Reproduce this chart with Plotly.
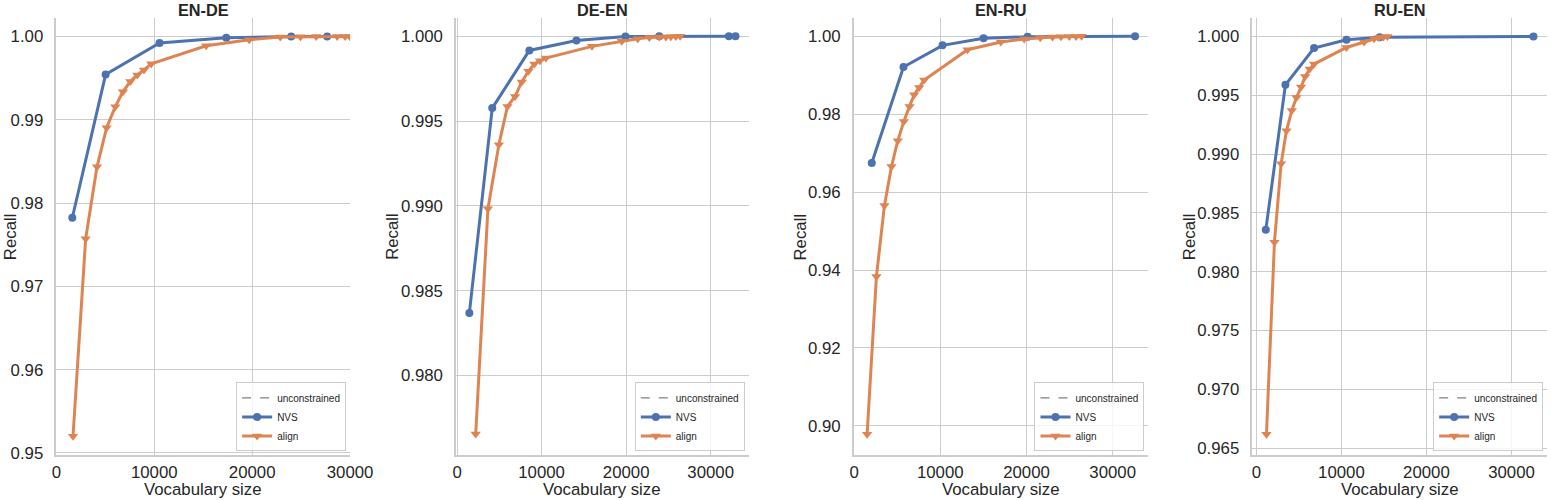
import plotly.graph_objects as go
from plotly.subplots import make_subplots

# recall vs vocabulary size
pairs = ["EN-DE", "DE-EN", "EN-RU", "RU-EN"]

ende_nvs_x = [1630, 5030, 10540, 17350, 23980, 27650]
ende_nvs_y = [0.97823, 0.99542, 0.99920, 0.99984, 0.99998, 1.0]
ende_align_x = [1700, 2990, 4150, 5135, 6020, 6800, 7550, 8260, 8945, 9690,
                15300, 19700, 22860, 24930, 26530, 28670, 29490, 29950]
ende_align_y = [0.95201, 0.97570, 0.98434, 0.98904, 0.99157, 0.99337, 0.99458, 0.99538, 0.99598, 0.99671,
                0.99888, 0.99960, 0.99992, 0.99996, 0.99998, 0.99999, 1.0, 1.0]

deen_nvs_x = [1450, 4160, 8550, 14120, 19920, 23920, 32160, 32940]
deen_nvs_y = [0.98368, 0.99577, 0.99917, 0.99976, 0.99999, 1.0, 1.0, 1.0]
deen_align_x = [2200, 3650, 4940, 5960, 6860, 7650, 8430, 9140, 9800, 10510,
                15960, 19490, 21370, 22750, 23920, 24710, 25290, 25880, 26390]
deen_align_y = [0.97654, 0.98983, 0.99361, 0.99587, 0.99646, 0.99731, 0.99794, 0.99837, 0.99856, 0.99872,
                0.99941, 0.99971, 0.99986, 0.99994, 0.99996, 0.99997, 0.99998, 0.99999, 1.0]

enru_nvs_x = [2050, 5730, 10260, 15020, 20130, 32600]
enru_nvs_y = [0.96746, 0.99212, 0.99769, 0.99949, 0.99991, 1.0]
enru_align_x = [1510, 2590, 3520, 4340, 5070, 5770, 6430, 6970, 7550, 8130,
                13160, 17030, 19740, 21600, 23030, 24000, 24970, 25750, 26400]
enru_align_y = [0.89786, 0.93835, 0.95659, 0.96661, 0.97320, 0.97817, 0.98202, 0.98502, 0.98690, 0.98878,
                0.99658, 0.99854, 0.99932, 0.99966, 0.99983, 0.99990, 0.99995, 0.99998, 1.0]

ruen_nvs_x = [1100, 3410, 6780, 10590, 14500, 32590]
ruen_nvs_y = [0.98356, 0.99589, 0.99901, 0.99972, 0.99992, 1.0]
ruen_align_x = [1180, 2120, 2900, 3530, 4160, 4710, 5250, 5730, 6270, 6780,
                10590, 12670, 13840, 14430, 14940, 15410]
ruen_align_y = [0.96619, 0.98251, 0.98917, 0.99198, 0.99371, 0.99481, 0.99569, 0.99660, 0.99722, 0.99765,
                0.99906, 0.99952, 0.99980, 0.99990, 0.99996, 1.0]

unconstrained = 1.0

nvs = [(ende_nvs_x, ende_nvs_y), (deen_nvs_x, deen_nvs_y), (enru_nvs_x, enru_nvs_y), (ruen_nvs_x, ruen_nvs_y)]
align = [(ende_align_x, ende_align_y), (deen_align_x, deen_align_y),
         (enru_align_x, enru_align_y), (ruen_align_x, ruen_align_y)]

# the photo comes out a little smaller than the page (~0.983, shifted a few px),
# so the page is made a bit bigger and positions are mapped back
S, OX, OY = 0.983, 3.6, 2.0
W, H = 1574, 507


def xp(px):
    return (px - OX) / S / W


def yp(py):
    return 1 - (py - OY) / S / H


blue = "#4c72b0"
orange = "#dd8452"
grid = "#cccccc"
txt = "#262626"
font = "Arial, Liberation Sans, sans-serif"

# panel geometry in picture pixels
x_px = [(55, 349), (455, 748), (853, 1148), (1252, 1547)]
y_top, y_bot = 20, 456
x_ranges = [[0, 30000], [-125, 34515], [-45, 34160], [-475, 34200]]
y_ranges = [[0.9497, 1.0022], [0.97528, 1.00108], [0.89238, 1.0047], [0.96438, 1.00156]]
y_dticks = [0.01, 0.005, 0.02, 0.005]
y_fmts = [".2f", ".3f", ".2f", ".3f"]
ytitle_px = [9, 392, 800, 1189]

fig = make_subplots(rows=1, cols=4)

for i in range(4):
    col = i + 1
    leg = "legend" if i == 0 else "legend%d" % col
    fig.add_hline(y=unconstrained, line=dict(color="#808080", width=1.3, dash="dash"),
                  layer="between", row=1, col=col)
    fig.add_trace(go.Scatter(x=[None], y=[None], mode="lines", name="unconstrained",
                             line=dict(color="#808080", width=1.3, dash="dash"), legend=leg),
                  row=1, col=col)
    fig.add_trace(go.Scatter(x=nvs[i][0], y=nvs[i][1], mode="lines+markers", name="NVS",
                             line=dict(color=blue, width=3),
                             marker=dict(symbol="circle", size=8, color=blue), legend=leg),
                  row=1, col=col)
    fig.add_trace(go.Scatter(x=align[i][0], y=align[i][1], mode="lines+markers", name="align",
                             line=dict(color=orange, width=3),
                             marker=dict(symbol="triangle-down", size=9, color=orange), legend=leg),
                  row=1, col=col)

    x0, x1 = x_px[i]
    fig.update_xaxes(domain=[xp(x0), xp(x1)], range=x_ranges[i], dtick=10000, tick0=0, tickformat="d",
                     showgrid=True, gridcolor=grid, gridwidth=1, zeroline=False,
                     showline=True, linecolor=grid, linewidth=1.5, ticks="", ticklabelstandoff=1,
                     tickfont=dict(size=16.8, color=txt, family=font), row=1, col=col)
    fig.update_yaxes(domain=[yp(y_bot), yp(y_top)], range=y_ranges[i], dtick=y_dticks[i], tick0=0,
                     tickformat=y_fmts[i], showgrid=True, gridcolor=grid, gridwidth=1, zeroline=False,
                     showline=True, linecolor=grid, linewidth=1.5, ticks="", ticklabelstandoff=8,
                     tickfont=dict(size=16.8, color=txt, family=font), row=1, col=col)

    fig.update_layout({leg: dict(x=xp(x1 - 4), y=yp(452), xanchor="right", yanchor="bottom",
                                 bgcolor="rgba(255,255,255,0.8)", bordercolor=grid, borderwidth=1,
                                 font=dict(size=10, color=txt, family=font), tracegroupgap=0)})

    xc = xp((x0 + x1) / 2)
    fig.add_annotation(text="<b>%s</b>" % pairs[i], x=xc, y=1, xref="paper", yref="paper",
                       xanchor="center", yanchor="top", borderpad=0, showarrow=False,
                       font=dict(size=16.3, color=txt, family=font))
    fig.add_annotation(text="Vocabulary size", x=xc, y=yp(490), xref="paper", yref="paper",
                       xanchor="center", yanchor="middle", showarrow=False,
                       font=dict(size=16.8, color=txt, family=font))
    fig.add_annotation(text="Recall", x=xp(ytitle_px[i]), y=yp((y_top + y_bot) / 2),
                       xref="paper", yref="paper", xanchor="center", yanchor="middle",
                       textangle=-90, showarrow=False, font=dict(size=16.8, color=txt, family=font))

fig.update_layout(width=W, height=H, margin=dict(l=0, r=0, t=0, b=0),
                  plot_bgcolor="white", paper_bgcolor="white",
                  font=dict(family=font, color=txt))

# no page margin and no scrollbars
page_js = ("document.body.style.margin = '0';"
           "document.body.style.overflow = 'hidden';"
           "document.documentElement.style.overflow = 'hidden';")
fig.write_html("out.html", config={"displayModeBar": False}, post_script=page_js)
